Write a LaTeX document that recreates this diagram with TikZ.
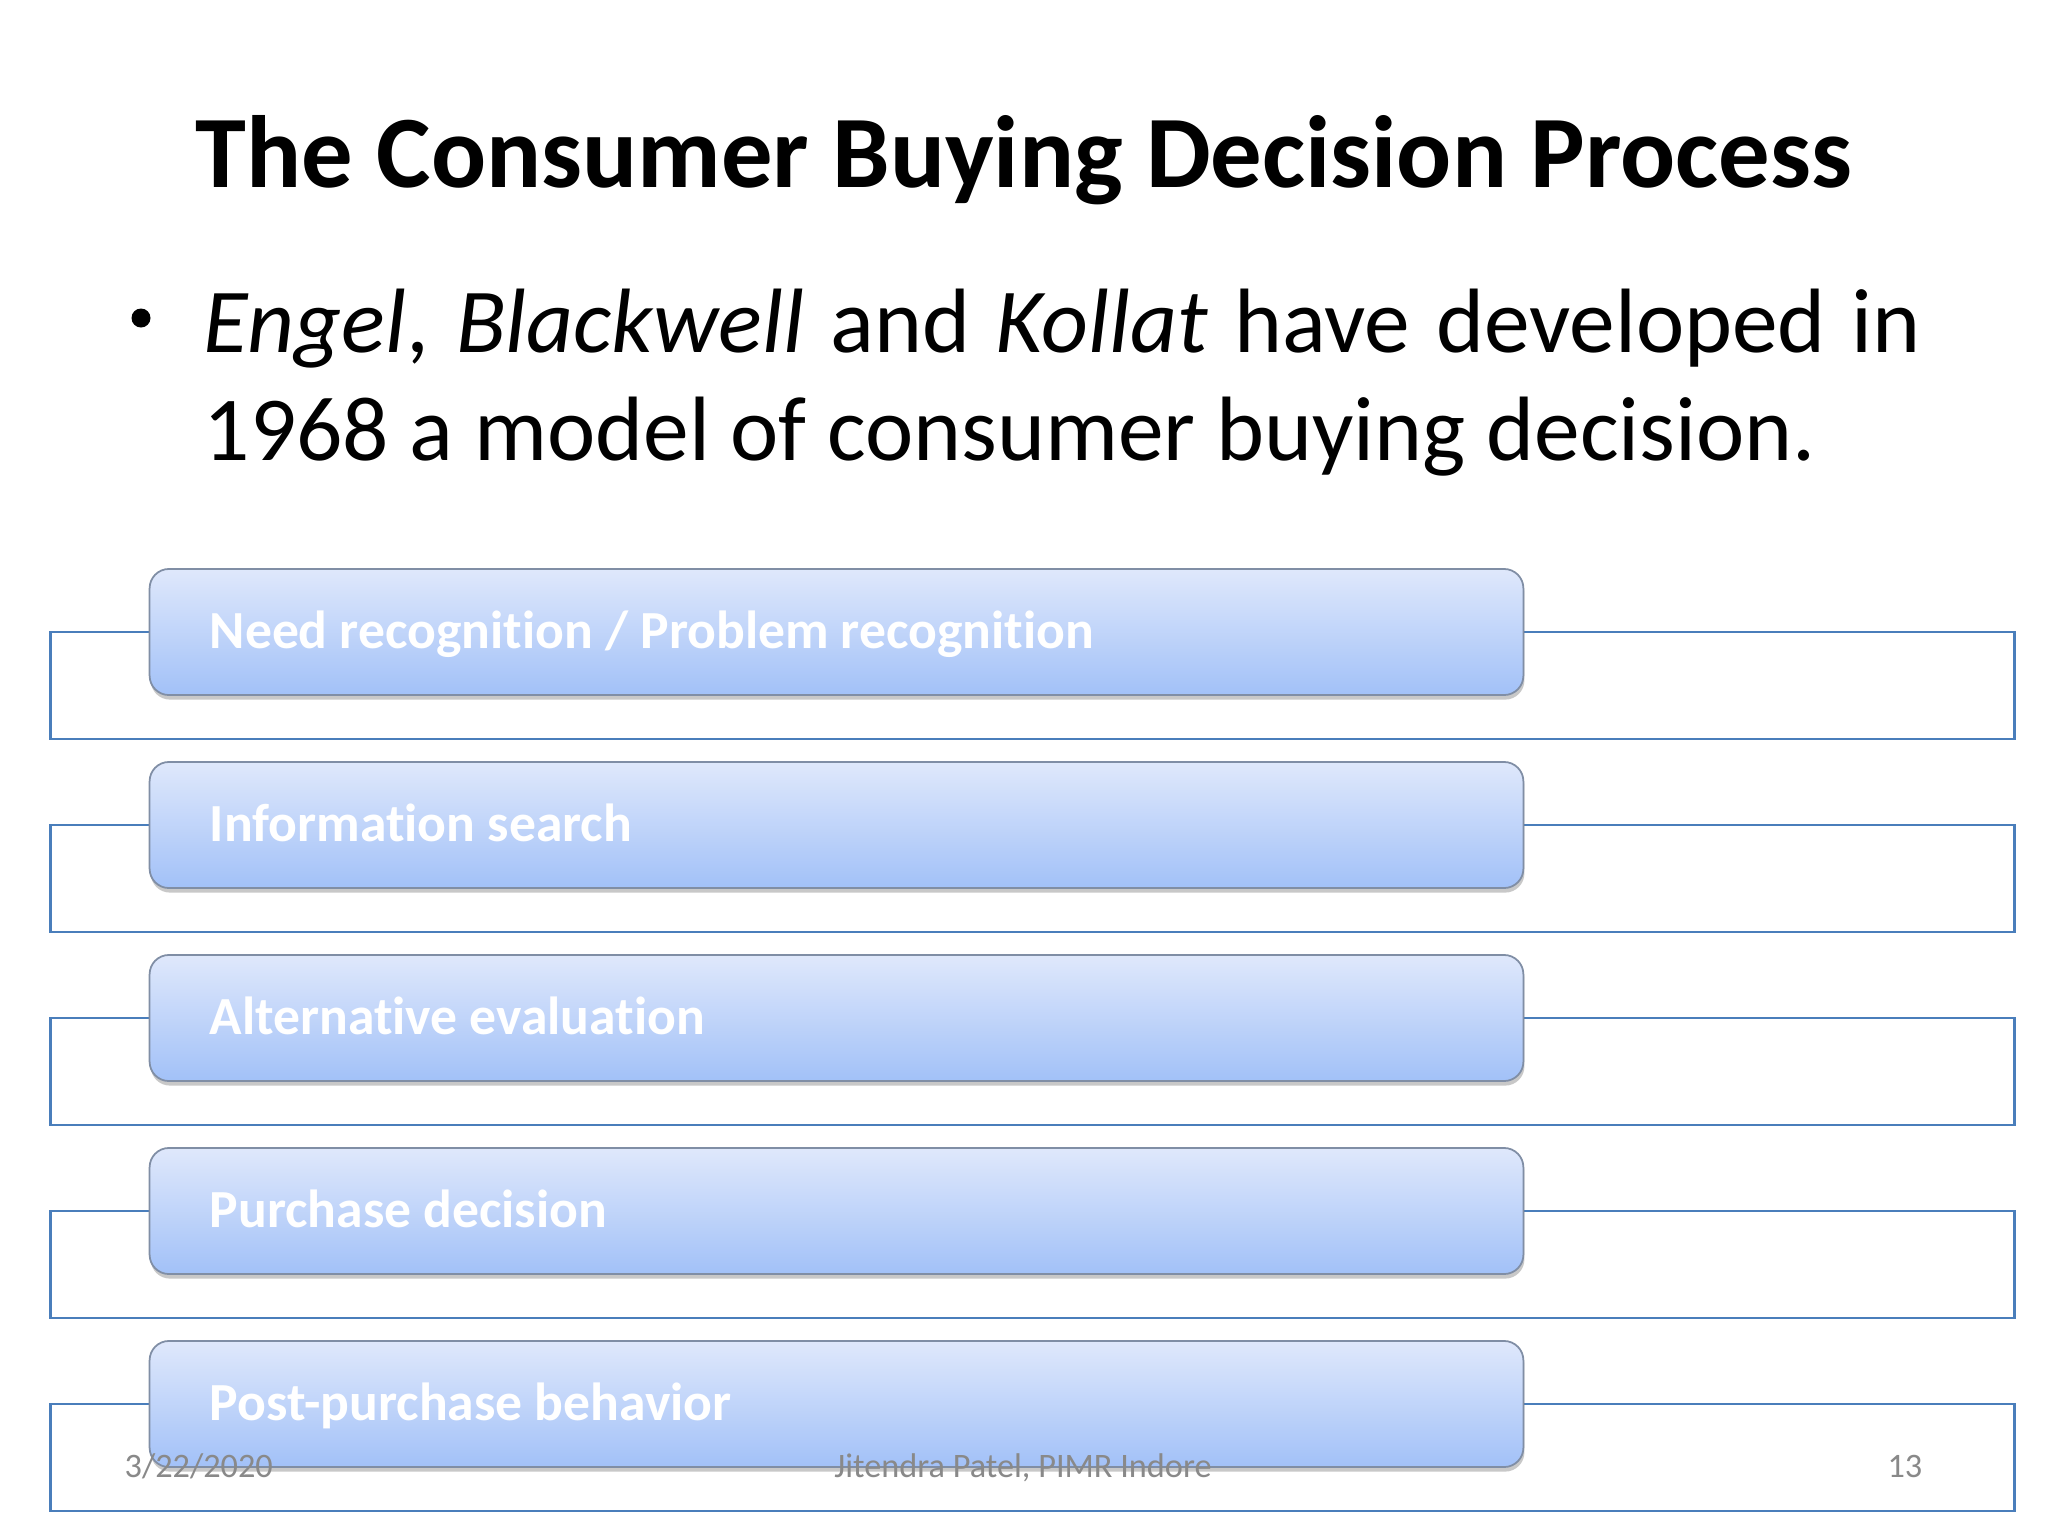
\documentclass[tikz,border=0pt]{standalone}
\usepackage{fontspec}
\setmainfont{Carlito}[RawFeature=-liga]
\usetikzlibrary{shadows}
\definecolor{rectblue}{RGB}{74,126,187}
\definecolor{boxtop}{RGB}{223,232,251}
\definecolor{boxbot}{RGB}{162,193,248}
\definecolor{boxedge}{RGB}{128,142,165}
\definecolor{footgray}{RGB}{137,137,137}
\tikzset{
  outline/.style={draw=rectblue, line width=0.7pt, minimum width=19.63cm, minimum height=1.07cm, inner sep=0},
  stepbox/.style={draw=boxedge, line width=0.5pt, rounded corners=5.5pt, top color=boxtop, bottom color=boxbot,
    minimum width=13.73cm, minimum height=1.26cm, inner sep=0,
    drop shadow={shadow xshift=0.3pt, shadow yshift=-1.3pt, opacity=0.3, fill=black!70}},
  steptext/.style={anchor=base west, inner sep=0, text=white, font=\bfseries\fontsize{15.25}{18}\selectfont},
  foot/.style={inner sep=0, text=footgray, font=\fontsize{9.75}{12}\selectfont}
}
\begin{document}
\begin{tikzpicture}[x=0.01cm,y=-0.01cm]
\useasboundingbox (0,0) rectangle (2048,1536);
\fill[white] (0,0) rectangle (2048,1536);
\node[anchor=base, inner sep=0, font=\bfseries\fontsize{29.2}{34}\selectfont] (title) at (1024,187) {The Consumer Buying Decision Process};
\fill (141,318) circle (9.5);
\node[anchor=base west, inner sep=0, font=\fontsize{26}{31}\selectfont] (line1) at (203,352)
  {\makebox[17.16cm][s]{\textit{Engel}, \textit{Blackwell} and \textit{Kollat} have developed in}};
\node[anchor=base west, inner sep=0, font=\fontsize{26}{31}\selectfont] (line2) at (203,460)
  {1968 a model of consumer buying decision.};
\foreach \i/\t in {1/{Need recognition / Problem recognition},2/{Information search},3/{Alternative evaluation},4/{Purchase decision},5/{Post-purchase behavior}}{
  \node[outline] (r\i) at (1032.5,{685.5+193*(\i-1)}) {};
  \node[stepbox] (b\i) at (836.5,{632+193*(\i-1)}) {};
  \node[steptext] (t\i) at (209,{648+193*(\i-1)}) {\t};
}
\node[foot, anchor=base west] (date) at (124,1477) {3/22/2020};
\node[foot, anchor=base] (author) at (1023,1477) {Jitendra Patel, PIMR Indore};
\node[foot, anchor=base east] (page) at (1923,1477) {13};
\end{tikzpicture}
\end{document}
